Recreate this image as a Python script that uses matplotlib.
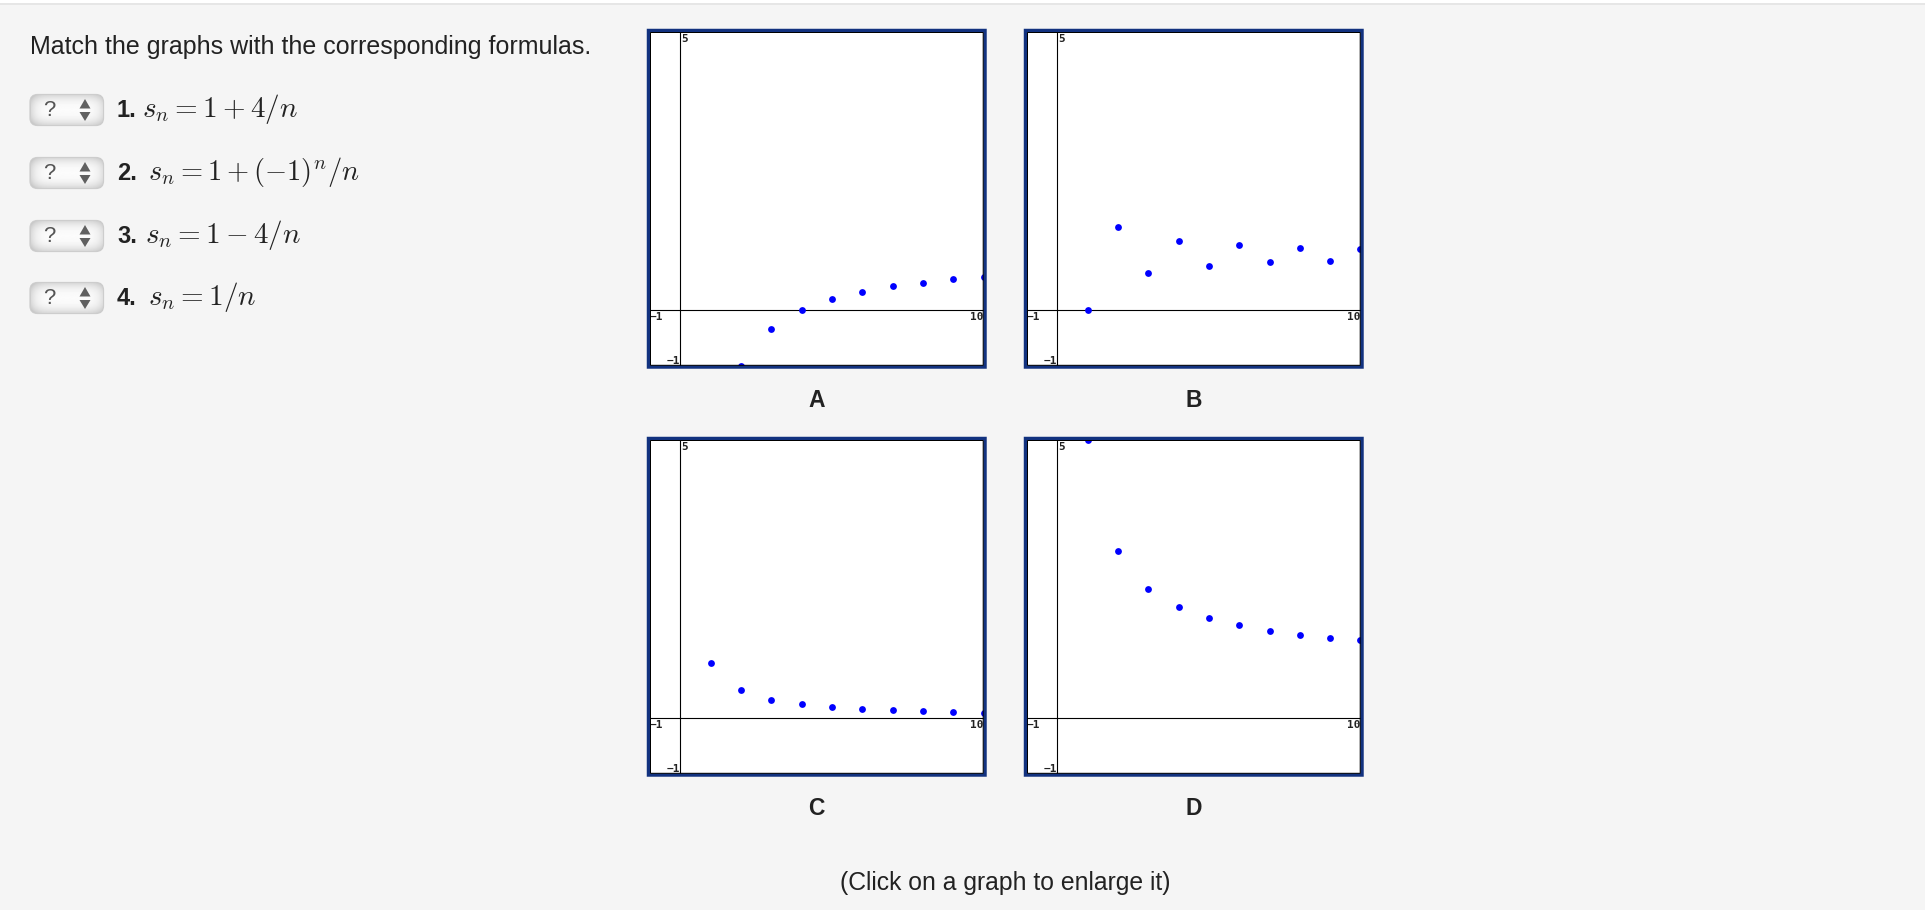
import numpy as np
import matplotlib
matplotlib.use("Agg")
import matplotlib.pyplot as plt
from matplotlib.patches import Rectangle, FancyBboxPatch, Polygon

plt.rcParams['font.family'] = ['Liberation Sans', 'DejaVu Sans']
plt.rcParams['mathtext.fontset'] = 'cm'

W, H = 1925, 910
BG = '#f5f5f5'
BLUE = '#12327f'
INK = '#222222'

n_values = [1, 2, 3, 4, 5, 6, 7, 8, 9, 10]
series_a = [-3, -1, -0.33, 0, 0.2, 0.33, 0.43, 0.5, 0.56, 0.6]
series_b = [0, 1.5, 0.67, 1.25, 0.8, 1.17, 0.86, 1.125, 0.89, 1.1]
series_c = [1, 0.5, 0.33, 0.25, 0.2, 0.167, 0.143, 0.125, 0.11, 0.1]
series_d = [5, 3, 2.33, 2, 1.8, 1.67, 1.57, 1.5, 1.44, 1.4]
panel_names = ['A', 'B', 'C', 'D']
x_tick_labels = ['\u22121', '10']
y_tick_labels = ['\u22121', '5']
title_text = 'Match the graphs with the corresponding formulas.'
footer_text = '(Click on a graph to enlarge it)'
formula_numbers = ['1.', '2.', '3.', '4.']
formulas = [r'$s_n = 1 + 4/n$', r'$s_n = 1 + (-1)^n/n$',
            r'$s_n = 1 - 4/n$', r'$s_n = 1/n$']

fig = plt.figure(figsize=(W / 100, H / 100), dpi=100, facecolor=BG)

page = fig.add_axes([0, 0, 1, 1], zorder=-1)
page.set_xlim(0, W); page.set_ylim(H, 0); page.axis('off')
top = fig.add_axes([0, 0, 1, 1], zorder=10)
top.set_xlim(0, W); top.set_ylim(H, 0); top.axis('off'); top.patch.set_alpha(0)

page.add_patch(Rectangle((0, 0), W, 3, fc='white', ec='none'))
page.add_patch(Rectangle((0, 3), W, 2, fc='#e6e6e6', ec='none'))

page.text(29.5, 47, title_text, fontsize=18, color=INK, va='center', ha='left')
page.text(1005.5, 883, footer_text, fontsize=17.8, color=INK, va='center', ha='center')

rows_y = [110, 173, 236, 298]
math_x = [142, 148, 145, 148]
math_size = [21, 20.5, 21, 21]
ys, xs = np.mgrid[0:1:40j, 0:1:80j]
shade = 0.985 - 0.13 * np.abs(2 * ys - 1) ** 2.5 - 0.12 * np.abs(2 * xs - 1) ** 6
for y, mx, ms_, num, formula in zip(rows_y, math_x, math_size, formula_numbers, formulas):
    box = FancyBboxPatch((30.5, y - 15), 72.5, 30, boxstyle='round,pad=0,rounding_size=7',
                         fc='#f2f2f2', ec='#cdcdcd', lw=1.6, zorder=2)
    page.add_patch(box)
    im = page.imshow(shade, extent=(30.5, 103, y + 15, y - 15), cmap='gray', vmin=0, vmax=1,
                     aspect='auto', zorder=2.1)
    im.set_clip_path(box)
    page.text(49, y + 0.5, '?', fontsize=16, color='#555555', ha='center', va='center', zorder=3)
    page.add_patch(Polygon([(79.5, y - 1.5), (90.5, y - 1.5), (85, y - 11)], fc='#606060', ec='none', zorder=3))
    page.add_patch(Polygon([(79.5, y + 2), (90.5, y + 2), (85, y + 11)], fc='#606060', ec='none', zorder=3))
    page.text(117, y + 7, num, fontsize=17, fontweight='bold', color=INK, ha='left', va='baseline')
    page.text(mx, y + 7, formula, fontsize=ms_, color=INK, ha='left', va='baseline')
page.set_xlim(0, W); page.set_ylim(H, 0)

origins = [(650, 32), (1027, 32), (650, 440), (1027, 440)]
all_series = [series_a, series_b, series_c, series_d]
AW, AH = 333.5, 334
for (x0, y0), values, name in zip(origins, all_series, panel_names):
    ax = fig.add_axes([x0 / W, 1 - (y0 + AH) / H, AW / W, AH / H], zorder=1)
    ax.set_xlim(-1, 10); ax.set_ylim(-1, 5)
    for s in ['top', 'right']:
        ax.spines[s].set_visible(False)
    for s in ['left', 'bottom']:
        ax.spines[s].set_position('zero')
        ax.spines[s].set_linewidth(0.8)
        ax.spines[s].set_color('black')
    ax.set_xticks([-1, 10], x_tick_labels)
    ax.set_yticks([-1], y_tick_labels[:1])
    ax.tick_params(axis='x', length=0, labelsize=8, pad=1.5)
    ax.tick_params(axis='y', length=0, labelsize=8, pad=0)
    for lab in ax.get_xticklabels() + ax.get_yticklabels():
        lab.set_fontfamily('DejaVu Sans Mono'); lab.set_fontweight('bold'); lab.set_color('#222222')
    xl = ax.get_xticklabels()
    xl[0].set_ha('left'); xl[1].set_ha('right')
    yl = ax.get_yticklabels()[0]
    yl.set_va('bottom')
    ax.annotate(y_tick_labels[1], (0, 5), xytext=(1, -1.5), textcoords='offset points',
                fontsize=8, fontfamily='DejaVu Sans Mono', fontweight='bold',
                color='#222222', ha='left', va='top')
    ax.plot(n_values, values, ls='none', marker='o', ms=4.9, mew=0, color='#0000ff', zorder=3)
    top.add_patch(Rectangle((x0 - 1.5, y0 - 1.5), AW + 3, AH + 2.5, fill=False, ec=BLUE, lw=2.5, snap=False))
    top.add_patch(Rectangle((x0 + 0.5, y0 + 0.5), AW - 0.8, AH - 1.2, fill=False, ec='black', lw=0.72, snap=False))
    page.text(x0 + 166.5, y0 + AH + 34.5, name, fontsize=16.5, fontweight='bold', color=INK,
              ha='center', va='center')

fig.savefig('out.png', dpi=100, facecolor=BG)
